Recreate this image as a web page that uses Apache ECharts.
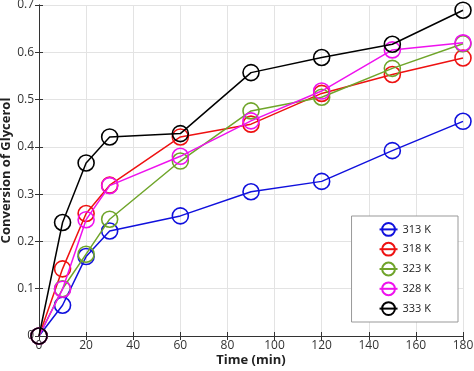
<!DOCTYPE html>
<html><head><meta charset="utf-8">
<script src="https://cdn.jsdelivr.net/npm/echarts@6/dist/echarts.min.js"></script>
<style>html,body{margin:0;padding:0;background:#fff}#c{width:474px;height:371px}</style>
</head><body><div id="c"></div>
<script>
const times = [0, 10, 20, 30, 60, 90, 120, 150, 180];
const seriesNames = ['313 K', '318 K', '323 K', '328 K', '333 K'];
const s313 = [0, 0.065, 0.168, 0.222, 0.254, 0.305, 0.327, 0.392, 0.454];
const s318 = [0, 0.142, 0.259, 0.319, 0.421, 0.448, 0.513, 0.553, 0.588];
const s323 = [0, 0.100, 0.173, 0.247, 0.370, 0.476, 0.505, 0.566, 0.618];
const s328 = [0, 0.099, 0.246, 0.318, 0.380, 0.455, 0.518, 0.605, 0.620];
const s333 = [0, 0.240, 0.366, 0.421, 0.428, 0.557, 0.589, 0.617, 0.689];
const yTicks = ['0', '0.1', '0.2', '0.3', '0.4', '0.5', '0.6', '0.7'];
const colors = ['#1010dd', '#ee1111', '#6fa52a', '#ee11ee', '#000000'];
const allData = [s313, s318, s323, s328, s333];

const font = 'Open Sans';
const boxAxisX = {
  type: 'value', min: 0, max: 180, interval: 20, position: 'top',
  axisLine: {show: true, lineStyle: {color: '#333', width: 1}},
  axisTick: {show: true, inside: true, length: 4, lineStyle: {color: '#333'}},
  axisLabel: {show: false}, splitLine: {show: false}
};
const boxAxisY = {
  type: 'value', min: 0, max: 0.7, interval: 0.1, position: 'right',
  axisLine: {show: true, lineStyle: {color: '#333', width: 1}},
  axisTick: {show: true, inside: true, length: 4, lineStyle: {color: '#333'}},
  axisLabel: {show: false}, splitLine: {show: false}
};

const chart = echarts.init(document.getElementById('c'));
chart.setOption({
  animation: false,
  grid: {left: 39, right: 11, top: 5, bottom: 35, containLabel: false, outerBoundsMode: 'none'},
  xAxis: [{
    type: 'value', min: 0, max: 180, interval: 20,
    name: 'Time (min)', nameLocation: 'middle', nameGap: 18, nameMoveOverlap: false,
    nameTextStyle: {fontFamily: font, fontWeight: 'bold', fontSize: 13, color: '#222'},
    axisLine: {show: true, onZero: false, lineStyle: {color: '#333', width: 1}},
    axisTick: {show: true, inside: true, length: 4, lineStyle: {color: '#333'}},
    axisLabel: {fontFamily: font, fontSize: 12, color: '#333', margin: 4},
    splitLine: {show: true, lineStyle: {color: '#e3e3e3', width: 1}}
  }, boxAxisX],
  yAxis: [{
    type: 'value', min: 0, max: 0.7, interval: 0.1,
    name: 'Conversion of Glycerol', nameLocation: 'middle', nameGap: 26, nameMoveOverlap: false,
    nameTextStyle: {fontFamily: font, fontWeight: 'bold', fontSize: 13, color: '#222'},
    axisLine: {show: true, onZero: false, lineStyle: {color: '#333', width: 1}},
    axisTick: {show: true, inside: true, length: 4, lineStyle: {color: '#333'}},
    axisLabel: {fontFamily: font, fontSize: 12, color: '#333', margin: 5,
      formatter: (v) => yTicks[Math.round(v * 10)]},
    splitLine: {show: true, lineStyle: {color: '#e3e3e3', width: 1}}
  }, boxAxisY],
  legend: {
    orient: 'vertical', right: 16, top: 216,
    data: seriesNames,
    backgroundColor: '#fff', borderColor: '#999', borderWidth: 1,
    padding: [6, 27, 6, 27], itemGap: 5, itemWidth: 18, itemHeight: 16,
    textStyle: {fontFamily: font, fontSize: 11, color: '#222'}
  },
  series: allData.map((d, i) => ({
    name: seriesNames[i], type: 'line',
    data: times.map((t, j) => [t, d[j]]),
    symbol: 'circle', symbolSize: 16, showSymbol: true,
    itemStyle: {color: 'rgba(0,0,0,0)', borderColor: colors[i], borderWidth: 1.6},
    lineStyle: {color: colors[i], width: 1.5},
    clip: false, z: 2 + i
  }))
});
</script></body></html>
